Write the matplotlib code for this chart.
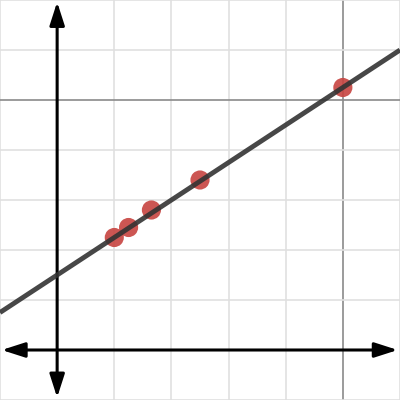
import numpy as np
import matplotlib
matplotlib.use("Agg")
import matplotlib.pyplot as plt

# data
xs = [1.0, 1.25, 1.65, 2.5, 5.0]
ys = [2.25, 2.45, 2.8, 3.4, 5.25]
slope, intercept = 0.75, 1.5
xlim = (-1, 6)
ylim = (-1, 7)

fig = plt.figure(figsize=(4, 4), dpi=100)
ax = fig.add_axes([0, 0, 1, 1])
ax.set_xlim(*xlim); ax.set_ylim(*ylim)
ax.axis("off")

# grid: minor every unit, major every 5
for gx in range(xlim[0], xlim[1] + 1):
    if gx == 0:
        continue
    major = gx % 5 == 0
    ax.axvline(gx, color="#8a8a8a" if major else "#e0e0e0", lw=1.2, zorder=0)
for gy in range(ylim[0], ylim[1] + 1):
    if gy == 0:
        continue
    major = gy % 5 == 0
    ax.axhline(gy, color="#8a8a8a" if major else "#e0e0e0", lw=1.2, zorder=0)

# axes with arrows on both ends
arrow = dict(arrowstyle="<|-|>,head_length=1.4,head_width=0.45", color="black", lw=2.2,
             shrinkA=0, shrinkB=0)
ax.annotate("", xy=(5.96, 0), xytext=(-0.97, 0), arrowprops=arrow, zorder=2)
ax.annotate("", xy=(0, 6.96), xytext=(0, -0.95), arrowprops=arrow, zorder=2)

# points under a semi-opaque fit line
lx = np.array(xlim, dtype=float)
ax.scatter(xs, ys, s=190, color="#c74440", alpha=0.9, edgecolors="none", zorder=3)
ax.plot(lx, slope * lx + intercept, color="#333333", alpha=0.9, lw=3.5, zorder=4,
        solid_capstyle="butt")

fig.savefig("out.png", dpi=100)
